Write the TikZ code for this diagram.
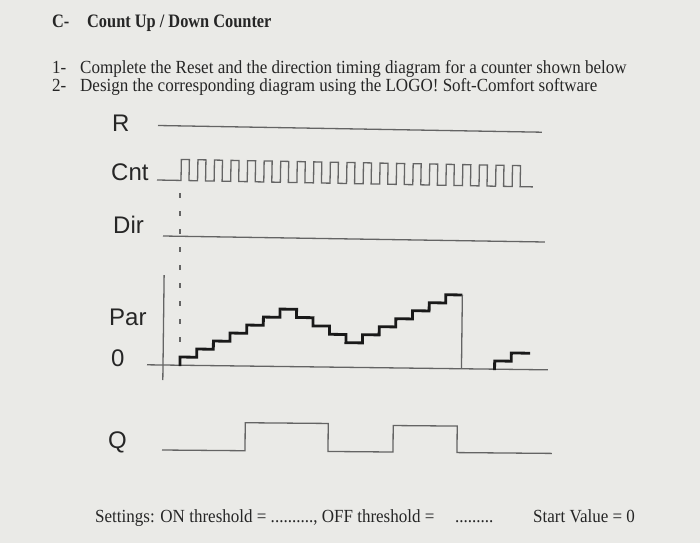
\documentclass[tikz,border=0pt]{standalone}
\usepackage{fontspec}
\setmainfont{Liberation Serif}
\setsansfont{Liberation Sans}
\newfontfamily\headfont[FakeStretch=0.86]{Liberation Serif}
\newfontfamily\sheetfont[FakeStretch=0.92]{Liberation Serif}
\usetikzlibrary{calc}
\definecolor{paper}{RGB}{234,234,231}
\definecolor{ink}{RGB}{38,38,38}
\definecolor{trace}{RGB}{100,100,100}
\tikzstyle{sheet}=[anchor=base west,inner sep=0pt,text=ink,font=\sheetfont\fontsize{18.5}{20}\selectfont]
\tikzstyle{head}=[anchor=base west,inner sep=0pt,text=ink,font=\headfont\bfseries\fontsize{19}{21}\selectfont]
\tikzstyle{sig}=[anchor=base west,inner sep=0pt,text=ink,font=\sffamily\fontsize{24}{26}\selectfont]
\tikzstyle{wave}=[draw=trace,line width=1.3pt]
\tikzstyle{count}=[draw=black!90,line width=2.8pt,line join=miter]

\begin{document}
\begin{tikzpicture}[x=1pt,y=-1pt]

      \fill[paper] (0,0) rectangle (700,543);
      \useasboundingbox (0,0) rectangle (700,543);

      % heading and questions
      \node[head] (part) at (52,28) {C-};
      \node[head] (title) at (87,28) {Count Up / Down Counter};
      \node[sheet] (n1) at (52,73) {1-};
      \node[sheet] (q1) at (80,73) {Complete the Reset and the direction timing diagram for a counter shown below};
      \node[sheet] (n2) at (52,91) {2-};
      \node[sheet] (q2) at (80,91) {Design the corresponding diagram using the LOGO! Soft-Comfort software};

      % signal names
      \node[sig] (lR) at (112,131.5) {R};
      \node[sig] (lCnt) at (111,180) {Cnt};
      \node[sig] (lDir) at (113,233) {Dir};
      \node[sig] (lPar) at (109,325) {Par};
      \node[sig] (lZero) at (111,366.5) {0};
      \node[sig] (lQ) at (108,448) {Q};

      % R
      \begin{scope}[rotate around={-1:(158,125.5)}]
        \draw[wave] (158,125.5) -- (542,125.5);
      \end{scope}

      % Cnt pulses
      \begin{scope}[rotate around={-1.05:(157,180)}]
        \draw[wave] (157,180) -- (181,180)
          \foreach \k in {0,...,20} { -- ++(0,-21) -- ++(8,0) -- ++(0,21) -- ++(8.56,0) }
          -- (533,180);
      \end{scope}

      % Dir
      \begin{scope}[rotate around={-0.9:(163,236)}]
        \draw[wave] (163,236) -- (545,236);
      \end{scope}

      \draw[wave,dash pattern=on 5pt off 13pt] (180,193) -- (180,352);

      % Par
      \begin{scope}[rotate around={-0.72:(163,365)}]
        \draw[wave] (163,275) -- (163,380);
        \draw[wave] (147,365) -- (548,365);
        \draw[count] (180,366)
          \foreach \l [count=\k from 0] in {1,2,3,4,5,6,7,6,5,4,3,4,5,6,7,8,9} {
            -- ({180+\k*16.56},{365-\l*8.2}) -- ({196.56+\k*16.56},{365-\l*8.2}) };
        \coordinate (top) at (461.5,{365-9*8.2});
        \draw[wave] (top) -- (461.5,365);
        \draw[count] (494.6,366) -- (494.6,356.8) -- (511.2,356.8) -- (511.2,348.6) -- (530,348.6);
      \end{scope}

      % Q
      \begin{scope}[rotate around={-0.5:(162,450)}]
        \draw[wave] (162,450) -- (245,450) -- (245,422) -- (328,422) -- (328,450)
          -- (393,450) -- (393,423.5) -- (457,423.5) -- (457,450) -- (552,450);
      \end{scope}

      % settings
      \node[sheet] (on) at (95,522) {Settings: ON threshold = .........., OFF threshold =};
      \node[sheet] (off) at (455,522) {.........};
      \node[sheet] (start) at (533,522) {Start Value = 0};

\end{tikzpicture}
\end{document}
